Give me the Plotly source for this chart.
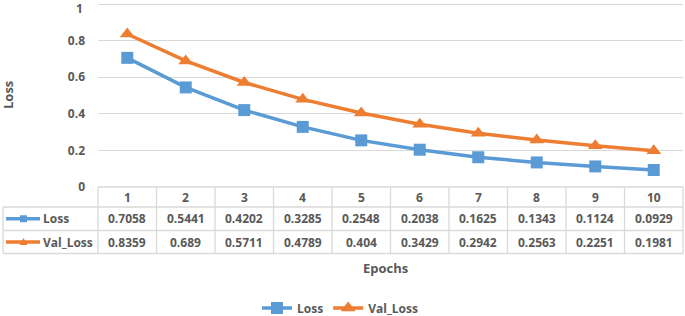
import plotly.graph_objects as go

epochs = [1, 2, 3, 4, 5, 6, 7, 8, 9, 10]
loss = [0.7058, 0.5441, 0.4202, 0.3285, 0.2548, 0.2038, 0.1625, 0.1343, 0.1124, 0.0929]
val_loss = [0.8359, 0.689, 0.5711, 0.4789, 0.404, 0.3429, 0.2942, 0.2563, 0.2251, 0.1981]
y_ticks = [0, 0.2, 0.4, 0.6, 0.8, 1]
y_tick_labels = ["0", "0.2", "0.4", "0.6", "0.8", "1"]

BLUE = "#5B9BD5"
ORANGE = "#ED7D31"
TXT = "#595959"
GRID = "#D9D9D9"
FONT = "Open Sans"

W, H = 685, 316
L, R, T, B = 98, 2, 0, 129
PW = W - L - R
PH = H - T - B
Y_TOP = PH / 183.0  # 183 px per unit of loss


def px(x):
    return (x - L) / PW


def py(y):
    return (H - B - y) / PH


fig = go.Figure()
fig.add_trace(go.Scatter(x=epochs, y=loss, name="Loss", mode="lines+markers",
                         line=dict(color=BLUE, width=3.5),
                         marker=dict(symbol="square", size=12, color=BLUE)))
fig.add_trace(go.Scatter(x=epochs, y=val_loss, name="Val_Loss", mode="lines+markers",
                         line=dict(color=ORANGE, width=3.5),
                         marker=dict(symbol="triangle-up", size=13, color=ORANGE)))

shapes = []
line_style = dict(color=GRID, width=1.3)
# table horizontal lines
y_top, y_h, y_r1, y_r2 = 187, 207, 230.5, 253.5
shapes.append(dict(type="line", xref="paper", yref="paper", x0=px(98), x1=px(683), y0=py(y_top), y1=py(y_top), line=line_style))
for yy in (y_h, y_r1, y_r2):
    shapes.append(dict(type="line", xref="paper", yref="paper", x0=px(3), x1=px(683), y0=py(yy), y1=py(yy), line=line_style))
# vertical lines
for i in range(len(epochs) + 1):
    xx = px(98) + i / len(epochs)
    shapes.append(dict(type="line", xref="paper", yref="paper", x0=xx, x1=xx, y0=py(y_top), y1=py(y_r2), line=line_style))
shapes.append(dict(type="line", xref="paper", yref="paper", x0=px(3), x1=px(3), y0=py(y_h), y1=py(y_r2), line=line_style))

# legend keys in table
r1c = (y_h + y_r1) / 2
r2c = (y_r1 + y_r2) / 2
shapes.append(dict(type="line", xref="paper", yref="paper", x0=px(6), x1=px(40), y0=py(r1c), y1=py(r1c), line=dict(color=BLUE, width=3.5)))
shapes.append(dict(type="rect", xref="paper", yref="paper", x0=px(20), x1=px(27), y0=py(r1c - 3.5), y1=py(r1c + 3.5), line=dict(width=0), fillcolor=BLUE))
shapes.append(dict(type="line", xref="paper", yref="paper", x0=px(6), x1=px(40), y0=py(r2c), y1=py(r2c), line=dict(color=ORANGE, width=3.5)))
tx = [px(19.5), px(23.5), px(27.5)]
ty = [py(r2c + 3), py(r2c - 4), py(r2c + 3)]
shapes.append(dict(type="path", xref="paper", yref="paper",
                   path=f"M {tx[0]} {ty[0]} L {tx[1]} {ty[1]} L {tx[2]} {ty[2]} Z",
                   line=dict(width=0), fillcolor=ORANGE))

tfont = dict(family=FONT, size=12, color=TXT, weight="bold")
annotations = []
hc = (y_top + y_h) / 2
common = dict(showarrow=False, yanchor="middle")
for e, a, b in zip(epochs, loss, val_loss):
    annotations.append(dict(x=e, y=py(hc), xref="x", yref="paper", text=str(e), xanchor="center", font=tfont, **common))
    annotations.append(dict(x=e, y=py(r1c), xref="x", yref="paper", text=str(a), xanchor="center", font=tfont, **common))
    annotations.append(dict(x=e, y=py(r2c), xref="x", yref="paper", text=str(b), xanchor="center", font=tfont, **common))
annotations.append(dict(x=px(41), y=py(r1c), xref="paper", yref="paper", text="Loss", xanchor="left", font=tfont, **common))
annotations.append(dict(x=px(41), y=py(r2c), xref="paper", yref="paper", text="Val_Loss", xanchor="left", font=tfont, **common))
annotations.append(dict(x=px(385), y=py(268), xref="paper", yref="paper", text="Epochs", xanchor="center",
                        font=dict(family=FONT, size=13, color=TXT, weight="bold"), **common))
annotations.append(dict(x=px(8), y=py(95), xref="paper", yref="paper", text="Loss", textangle=-90, xanchor="center",
                        font=dict(family=FONT, size=13, color=TXT, weight="bold"), **common))
# top tick label (plotly hides it at the very edge of the figure)
annotations.append(dict(x=px(85), y=1, xref="paper", yref="paper", text=y_tick_labels[-1], xanchor="right",
                        yanchor="top", yshift=2, showarrow=False,
                        font=dict(family=FONT, size=12, color=TXT, weight="bold")))
tick_text_axis = y_tick_labels[:-1] + [""]

fig.update_layout(
    width=W, height=H,
    margin=dict(l=L, r=R, t=T, b=B, autoexpand=False),
    paper_bgcolor="white", plot_bgcolor="white",
    showlegend=True,
    legend=dict(orientation="h", x=px(340), xanchor="center", y=py(308), yanchor="middle",
                font=dict(family=FONT, size=12, color=TXT, weight="bold")),
    shapes=shapes, annotations=annotations,
    xaxis=dict(range=[0.5, 10.5], showticklabels=False, showgrid=False, zeroline=False, showline=False, fixedrange=True),
    yaxis=dict(range=[0, Y_TOP], tickvals=y_ticks, ticktext=tick_text_axis, showgrid=True, gridcolor=GRID, gridwidth=1.3,
               zeroline=False, showline=False, ticklabelstandoff=12,
               tickfont=dict(family=FONT, size=12, color=TXT, weight="bold")),
)

fig.write_html("out.html", config={"displayModeBar": False},
               post_script="document.body.style.margin='0px';")
